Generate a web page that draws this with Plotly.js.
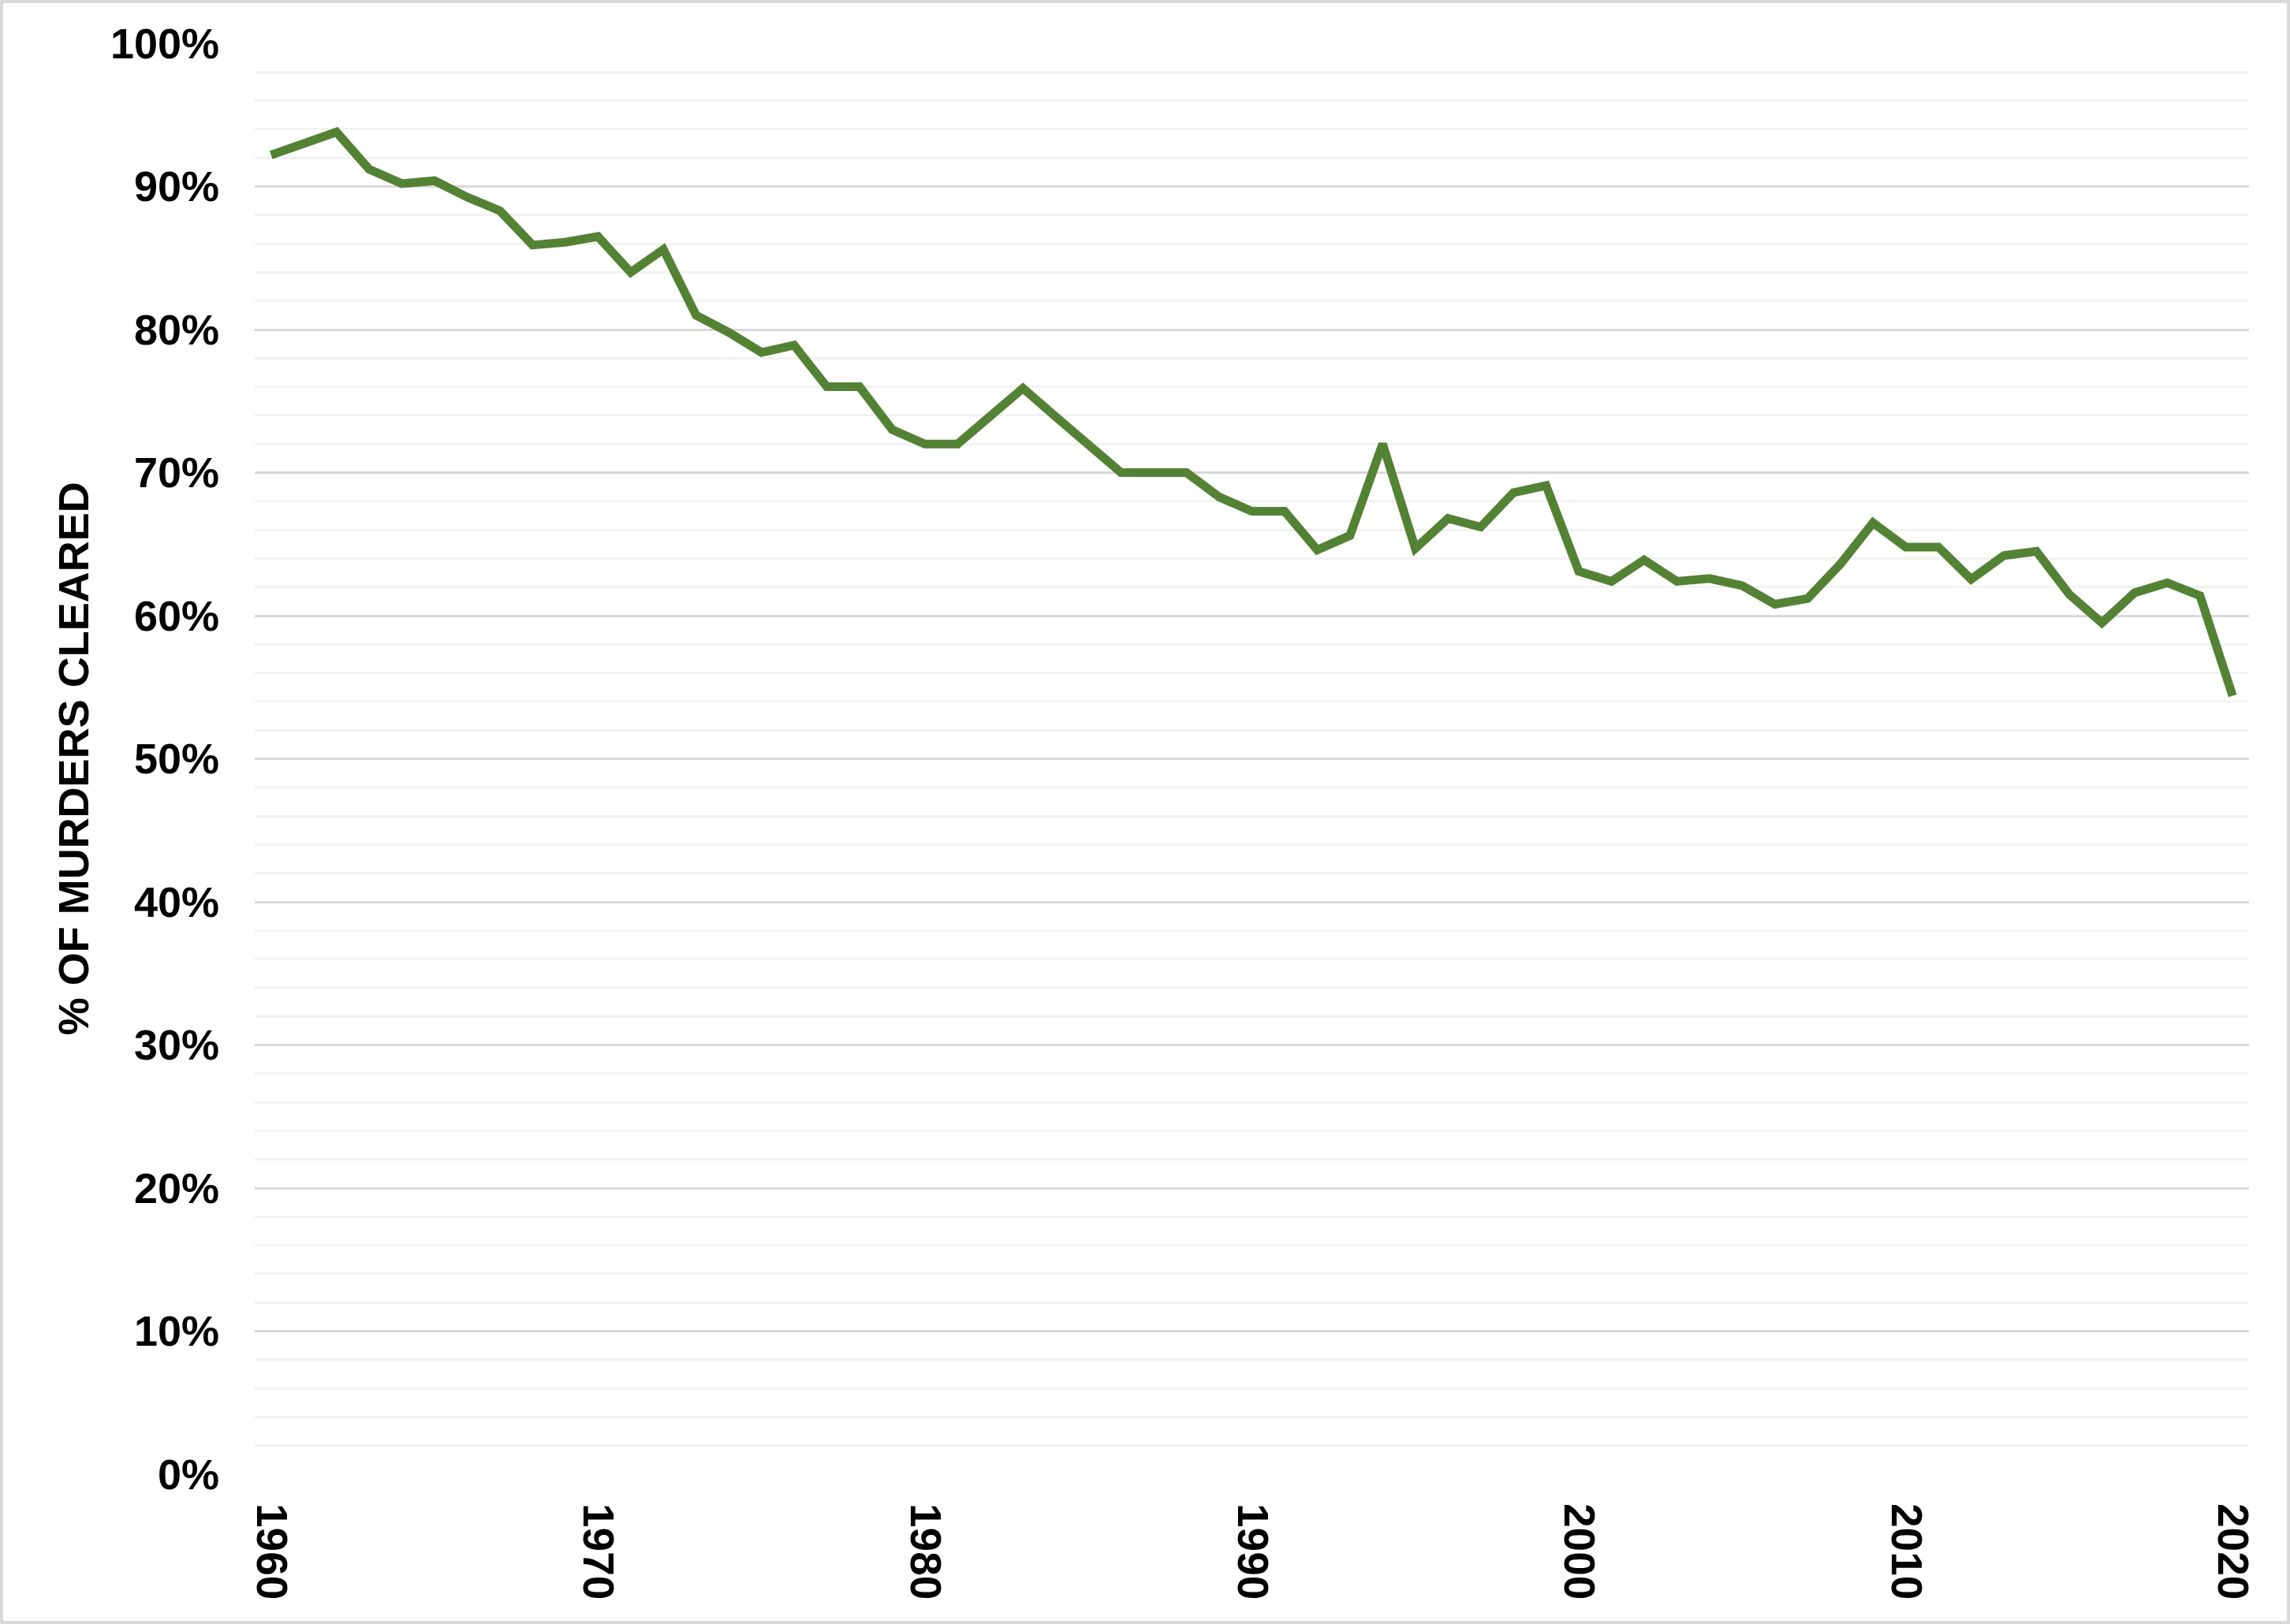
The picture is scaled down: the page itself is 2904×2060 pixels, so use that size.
<!DOCTYPE html>
<html>
<head>
<meta charset="utf-8">
<script src="https://cdn.plot.ly/plotly-3.0.1.min.js"></script>
<style>
  html, body { margin: 0; padding: 0; background: #fff; }
  #chart {
    width: 2904px;
    height: 2060px;
    box-sizing: border-box;
    border: 4px solid #d9d9d9;
  }
</style>
</head>
<body>
<div id="chart"></div>
<script>
const years = [
  1960, 1961, 1962, 1963, 1964, 1965, 1966, 1967, 1968, 1969,
  1970, 1971, 1972, 1973, 1974, 1975, 1976, 1977, 1978, 1979,
  1980, 1981, 1982, 1983, 1984, 1985, 1986, 1987, 1988, 1989,
  1990, 1991, 1992, 1993, 1994, 1995, 1996, 1997, 1998, 1999,
  2000, 2001, 2002, 2003, 2004, 2005, 2006, 2007, 2008, 2009,
  2010, 2011, 2012, 2013, 2014, 2015, 2016, 2017, 2018, 2019,
  2020,
];

// percent of murders cleared
const clearedPct = [
  92.2, 93.0, 93.8, 91.2, 90.2, 90.4, 89.25, 88.3, 85.9, 86.1,
  86.5, 84.0, 85.6, 81.0, 79.8, 78.4, 78.9, 76.0, 76.0, 73.0,
  72.0, 72.0, 74.0, 75.9, 73.9, 71.9, 70.0, 70.0, 70.0, 68.3,
  67.3, 67.3, 64.6, 65.6, 72.0, 64.7, 66.8, 66.2, 68.6, 69.1,
  63.1, 62.4, 63.9, 62.4, 62.6, 62.1, 60.8, 61.2, 63.6, 66.5,
  64.8, 64.8, 62.55, 64.2, 64.5, 61.5, 59.5, 61.6, 62.3, 61.4,
  54.4,
];

const xTickYears = [1960, 1970, 1980, 1990, 2000, 2010, 2020];
const yTitle = "% OF MURDERS CLEARED";

const font = "Liberation Sans, Arial, Helvetica, sans-serif";

const trace = {
  type: "scatter",
  mode: "lines",
  x: years,
  y: clearedPct,
  line: { color: "#548235", width: 11 },
  hoverinfo: "x+y",
};

const layout = {
  width: 2896,
  height: 2052,
  margin: { l: 319, r: 48, t: 51, b: 186 },
  paper_bgcolor: "#ffffff",
  plot_bgcolor: "#ffffff",
  showlegend: false,
  font: { family: font, size: 53, color: "#000000" },
  xaxis: {
    range: [1959.5, 2020.5],
    tickmode: "array",
    tickvals: xTickYears,
    ticktext: xTickYears.map(String),
    tickangle: 90,
    ticks: "",
    showgrid: false,
    zeroline: false,
    showline: false,
    tickfont: { family: font, size: 55, color: "#000", weight: "bold" },
    ticklabelstandoff: 36,
  },
  yaxis: {
    range: [0, 100],
    dtick: 10,
    ticksuffix: "%",
    ticks: "",
    showgrid: true,
    gridcolor: "#d9d9d9",
    gridwidth: 3,
    zeroline: false,
    showline: false,
    tickfont: { family: font, size: 54, color: "#000", weight: "bold" },
    ticklabelstandoff: 44,
    minor: { dtick: 2, showgrid: true, gridcolor: "#f2f2f2", gridwidth: 3, ticks: "" },
  },
  annotations: [
    {
      text: yTitle,
      xref: "paper",
      yref: "paper",
      x: -0.091,
      y: 0.5,
      xanchor: "center",
      yanchor: "middle",
      textangle: -90,
      showarrow: false,
      font: { family: font, size: 54, color: "#000", weight: "bold" },
    },
  ],
};

Plotly.newPlot("chart", [trace], layout, { displayModeBar: false, staticPlot: true });
</script>
</body>
</html>
